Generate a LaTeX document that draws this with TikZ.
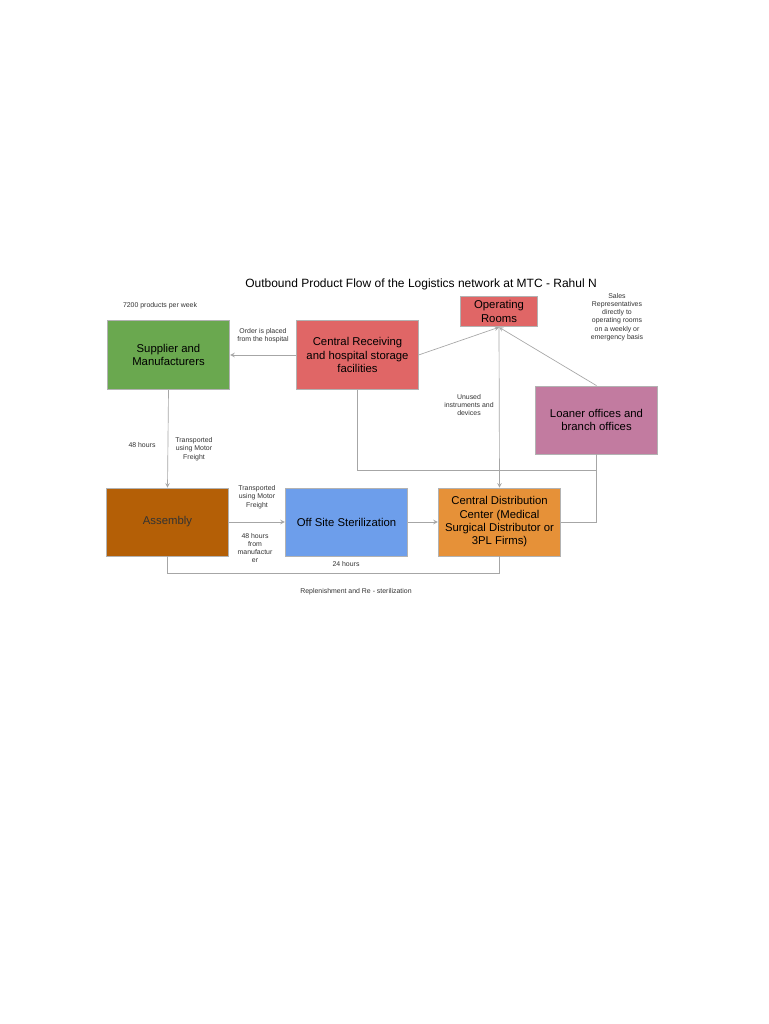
\documentclass[tikz,border=0pt]{standalone}
\usepackage{fontspec}
\setmainfont{Liberation Sans}
\begin{document}
\begin{tikzpicture}[x=0.75pt,y=-0.75pt,
  box/.style={draw=gray!60,line width=0.6pt,minimum width=#1,inner sep=1pt,align=center,font=\fontsize{8.5}{10}\selectfont},
  lab/.style={align=center,font=\fontsize{5.2}{6.2}\selectfont,text=black!80},
  ln/.style={draw=gray!70,line width=0.5pt},
  arr/.style={ln,-stealth}]
\useasboundingbox[fill=white] (0,0) rectangle (768,1024);
\definecolor{cg}{HTML}{6AA84F}\definecolor{cr}{HTML}{E06666}
\definecolor{cp}{HTML}{C27BA0}\definecolor{cb}{HTML}{B45F06}
\definecolor{cbl}{HTML}{6D9EEB}\definecolor{co}{HTML}{E69138}
\node[box=92pt,minimum height=52pt,fill=cg] (sup) at (168.5,355) {Supplier and\\Manufacturers};
\node[box=91pt,minimum height=52pt,fill=cr] (cr) at (357.5,355) {Central Receiving\\and hospital storage\\facilities};
\node[box=58pt,minimum height=23pt,fill=cr] (or) at (499,311.5) {Operating\\Rooms};
\node[box=92pt,minimum height=51pt,fill=cp] (lo) at (596.5,420) {Loaner offices and\\branch offices};
\node[box=91pt,minimum height=51pt,fill=cb,text=black!80] (as) at (167.5,522) {Assembly};
\node[box=92pt,minimum height=51pt,fill=cbl] (os) at (346.5,522) {Off Site Sterilization};
\node[box=92pt,minimum height=51pt,fill=co] (cd) at (499.5,522) {Central Distribution\\Center (Medical\\Surgical Distributor or\\3PL Firms)};
\node[font=\fontsize{9}{11}\selectfont] (t) at (421,284) {Outbound Product Flow of the Logistics network at MTC - Rahul N};
\node[lab] (l1) at (160,306) {7200 products per week};
\node[lab] (l2) at (263,336) {Order is placed\\from the hospital};
\node[lab] (l3) at (617,317) {Sales\\Representatives\\directly to\\operating rooms\\on a weekly or\\emergency basis};
\node[lab] (l4) at (469,405) {Unused\\instruments and\\devices};
\node[lab] (l5) at (142,445) {48 hours};
\node[lab] (l6) at (194,449) {Transported\\using Motor\\Freight};
\node[lab] (l7) at (257,497) {Transported\\using Motor\\Freight};
\node[lab] (l8) at (255,548) {48 hours\\from\\manufactur\\er};
\node[lab] (l9) at (346,564) {24 hours};
\node[lab] (l10) at (356,592) {Replenishment and Re - sterilization};
\draw[arr] (cr.west) -- (sup.east);
\draw[arr] (cr.east) -- (or.south);
\draw[arr] (lo.north) -- (or.south);
\draw[arr] (or.south) -- (cd.north);
\draw[ln] (cr.south) -- ++(0,80) -| (lo.south);
\draw[ln] (lo.south) |- (cd.east);
\draw[arr] (sup.south) -- (as.north);
\draw[arr] (as.east) -- (os.west);
\draw[arr] (os.east) -- (cd.west);
\draw[ln] (as.south) -- ++(0,17) -| (cd.south);
\end{tikzpicture}
\end{document}
